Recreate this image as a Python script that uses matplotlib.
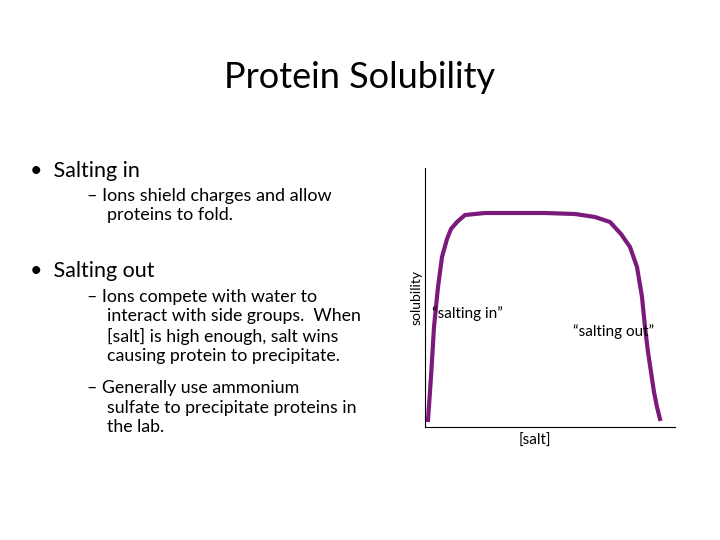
import matplotlib
matplotlib.use('Agg')
import matplotlib.pyplot as plt

# curve (x from left axis, y from bottom axis, in px units)
curveX = [3, 6, 9, 13, 17, 22, 26, 32, 40, 60, 90, 120, 150, 170, 185, 196, 205, 212, 217, 220, 223, 226, 229, 232, 235]
curveY = [7, 50, 100, 140, 170, 188, 198, 205, 212, 214, 214, 214, 213, 210, 205, 193, 180, 160, 130, 100, 75, 55, 35, 20, 8]

plt.rcParams['font.family'] = ['Lato', 'DejaVu Sans']
fig = plt.figure(figsize=(7.2, 5.4), dpi=100)

fig.text(0.5, 1 - 77/540, 'Protein Solubility', ha='center', va='center', fontsize=26)
fig.text(30/720, 1 - 171/540, '•  Salting in', va='center', fontsize=15.5)
fig.text(87/720, 1 - 196/540, '– Ions shield charges and allow', va='center', fontsize=13)
fig.text(107/720, 1 - 215/540, 'proteins to fold.', va='center', fontsize=13)
fig.text(30/720, 1 - 271/540, '•  Salting out', va='center', fontsize=15.5)
lines1 = ['– Ions compete with water to', 'interact with side groups.  When',
          '[salt] is high enough, salt wins', 'causing protein to precipitate.']
for i, t in enumerate(lines1):
    fig.text((87 if i == 0 else 107)/720, 1 - (297 + 19.5*i)/540, t, va='center', fontsize=12.8)
lines2 = ['– Generally use ammonium', 'sulfate to precipitate proteins in', 'the lab.']
for i, t in enumerate(lines2):
    fig.text((87 if i == 0 else 107)/720, 1 - (388 + 19.5*i)/540, t, va='center', fontsize=12.8)

ax = fig.add_axes([425/720, 1 - 427/540, 250/720, 259/540])
ax.plot(curveX, curveY, color='#7b1a7b', lw=3)
ax.set_xlim(0, 250)
ax.set_ylim(0, 259)
ax.set_xticks([])
ax.set_yticks([])
ax.spines['top'].set_visible(False)
ax.spines['right'].set_visible(False)
ax.set_ylabel('solubility', fontsize=10, labelpad=2)
ax.text(7, 113, '\u201csalting in\u201d', fontsize=11, va='center')
ax.text(148, 95, '\u201csalting out\u201d', fontsize=11, va='center')
ax.text(110, -14, '[salt]', fontsize=11, ha='center', va='center', clip_on=False)

fig.savefig('out.png')
